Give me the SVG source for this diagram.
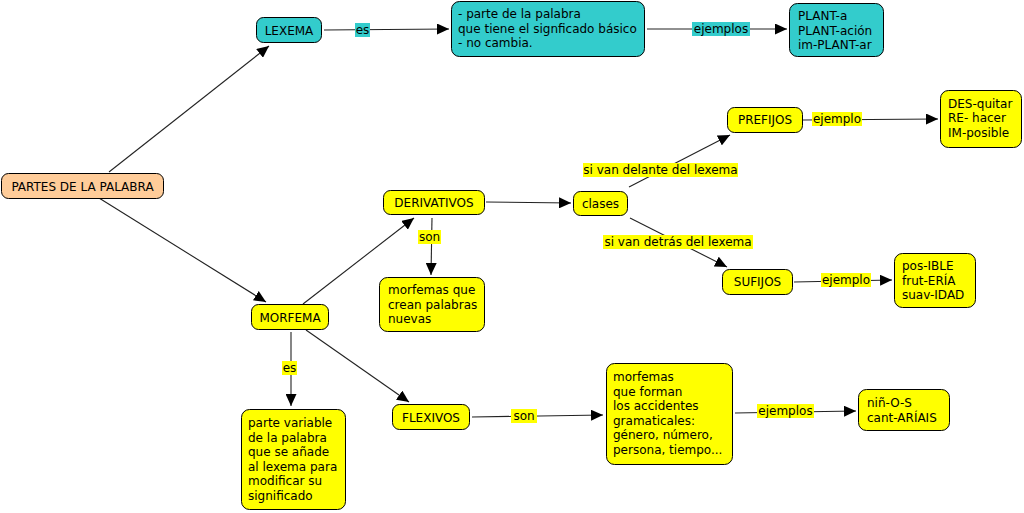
<svg xmlns="http://www.w3.org/2000/svg" width="1024" height="513" viewBox="0 0 1024 513">
<style>
text{font-family:"DejaVu Sans",Verdana,sans-serif;font-size:12px;fill:#000}
.n rect{stroke:#000;stroke-width:1}
.y{fill:#ffff00}
.t{fill:#33cccc}
.p{fill:#ffcc99}
.c line{stroke:#222;stroke-width:1.1}
.c .a{marker-end:url(#ah)}
.lb{fill:#ffff00}
.lt{fill:#33cccc}
.m{text-anchor:middle}
</style>
<defs>
<marker id="ah" markerUnits="userSpaceOnUse" markerWidth="13" markerHeight="11" refX="12" refY="5.5" orient="auto">
<path d="M0,0 L12,5.5 L0,11 z" fill="#000"/>
</marker>
</defs>
<rect width="1024" height="513" fill="#fff"/>
<g id="connectors" class="c">
<line class="a" x1="109" y1="172" x2="269" y2="46"/>
<line class="a" x1="99" y1="198" x2="266" y2="302"/>
<line class="a" x1="324" y1="30" x2="449" y2="29"/>
<line class="a" x1="647" y1="29" x2="787" y2="29"/>
<line class="a" x1="303" y1="304" x2="414" y2="218"/>
<line class="a" x1="432" y1="218" x2="431" y2="275"/>
<line class="a" x1="291" y1="332" x2="291" y2="406"/>
<line class="a" x1="306" y1="330" x2="409" y2="402"/>
<line class="a" x1="472" y1="417" x2="603" y2="415"/>
<line class="a" x1="735" y1="413" x2="856" y2="411"/>
<line class="a" x1="486" y1="202" x2="571" y2="203"/>
<line class="a" x1="629" y1="187" x2="730" y2="135"/>
<line class="a" x1="630" y1="218" x2="727" y2="267"/>
<line class="a" x1="803" y1="120" x2="938" y2="119"/>
<line class="a" x1="794" y1="282" x2="892" y2="280"/>
<rect class="lt" x="355" y="23" width="15" height="14"/>
<text class="m" x="362.5" y="34">es</text>
<rect class="lt" x="692" y="22" width="58" height="14"/>
<text class="m" x="721" y="33">ejemplos</text>
<rect class="lb" x="418" y="230" width="23" height="14"/>
<text class="m" x="429.5" y="241">son</text>
<rect class="lb" x="282" y="361" width="15" height="14"/>
<text class="m" x="289.5" y="372">es</text>
<rect class="lb" x="511" y="409" width="26" height="14"/>
<text class="m" x="524" y="420">son</text>
<rect class="lb" x="757" y="404" width="57" height="14"/>
<text class="m" x="785.5" y="415">ejemplos</text>
<rect class="lb" x="583" y="163" width="155" height="14"/>
<text class="m" x="660.5" y="174">si van delante del lexema</text>
<rect class="lb" x="603" y="235" width="150" height="14"/>
<text class="m" x="678" y="246">si van detrás del lexema</text>
<rect class="lb" x="812" y="112" width="50" height="14"/>
<text class="m" x="837" y="123">ejemplo</text>
<rect class="lb" x="821" y="273" width="50" height="14"/>
<text class="m" x="846" y="284">ejemplo</text>
</g>
<g id="partes" class="n"><rect class="p" x="1.5" y="173.5" width="162" height="25" rx="7"/><text class="m" x="82.5" y="190.5">PARTES DE LA PALABRA</text></g>
<g id="lexema" class="n"><rect class="t" x="256.5" y="17.5" width="65" height="25" rx="7"/><text class="m" x="289" y="34.5">LEXEMA</text></g>
<g id="lexema-def" class="n"><rect class="t" x="451.5" y="1.5" width="193" height="55" rx="8"/><text x="458" y="18">- parte de la palabra</text><text x="458" y="32.5">que tiene el signficado básico</text><text x="458" y="47">- no cambia.</text></g>
<g id="lexema-ej" class="n"><rect class="t" x="789.5" y="3.5" width="94" height="53" rx="8"/><text x="798" y="20">PLANT-a</text><text x="798" y="34.5">PLANT-ación</text><text x="798" y="49">im-PLANT-ar</text></g>
<g id="morfema" class="n"><rect class="y" x="251.5" y="304.5" width="77" height="25" rx="7"/><text class="m" x="290" y="321.5">MORFEMA</text></g>
<g id="morfema-def" class="n"><rect class="y" x="241.5" y="409.5" width="104" height="100" rx="8"/><text x="248" y="427">parte variable</text><text x="248" y="441.5">de la palabra</text><text x="248" y="456">que se añade</text><text x="248" y="470.5">al lexema para</text><text x="248" y="485">modificar su</text><text x="248" y="499.5">significado</text></g>
<g id="derivativos" class="n"><rect class="y" x="383.5" y="190.5" width="101" height="24" rx="7"/><text class="m" x="434" y="207">DERIVATIVOS</text></g>
<g id="derivativos-def" class="n"><rect class="y" x="379.5" y="277.5" width="105" height="54" rx="8"/><text x="388" y="294">morfemas que</text><text x="388" y="308.5">crean palabras</text><text x="388" y="323">nuevas</text></g>
<g id="flexivos" class="n"><rect class="y" x="392.5" y="404.5" width="77" height="25" rx="7"/><text class="m" x="431" y="421.5">FLEXIVOS</text></g>
<g id="flexivos-def" class="n"><rect class="y" x="606.5" y="363.5" width="126" height="101" rx="8"/><text x="613" y="381">morfemas</text><text x="613" y="395.5">que forman</text><text x="613" y="410">los accidentes</text><text x="613" y="424.5">gramaticales:</text><text x="613" y="439">género, número,</text><text x="613" y="453.5">persona, tiempo...</text></g>
<g id="flexivos-ej" class="n"><rect class="y" x="858.5" y="389.5" width="91" height="41" rx="8"/><text x="867" y="407">niñ-O-S</text><text x="867" y="421.5">cant-ARÍAIS</text></g>
<g id="clases" class="n"><rect class="y" x="573.5" y="191.5" width="54" height="24" rx="7"/><text class="m" x="600.5" y="207.5">clases</text></g>
<g id="prefijos" class="n"><rect class="y" x="727.5" y="107.5" width="75" height="25" rx="7"/><text class="m" x="765" y="124">PREFIJOS</text></g>
<g id="prefijos-ej" class="n"><rect class="y" x="940.5" y="90.5" width="81" height="57" rx="8"/><text x="948" y="107.5">DES-quitar</text><text x="948" y="122">RE- hacer</text><text x="948" y="136.5">IM-posible</text></g>
<g id="sufijos" class="n"><rect class="y" x="722.5" y="269.5" width="70" height="25" rx="7"/><text class="m" x="757.5" y="286">SUFIJOS</text></g>
<g id="sufijos-ej" class="n"><rect class="y" x="894.5" y="253.5" width="81" height="54" rx="8"/><text x="902" y="270">pos-IBLE</text><text x="902" y="284.5">frut-ERÍA</text><text x="902" y="299">suav-IDAD</text></g>
</svg>
